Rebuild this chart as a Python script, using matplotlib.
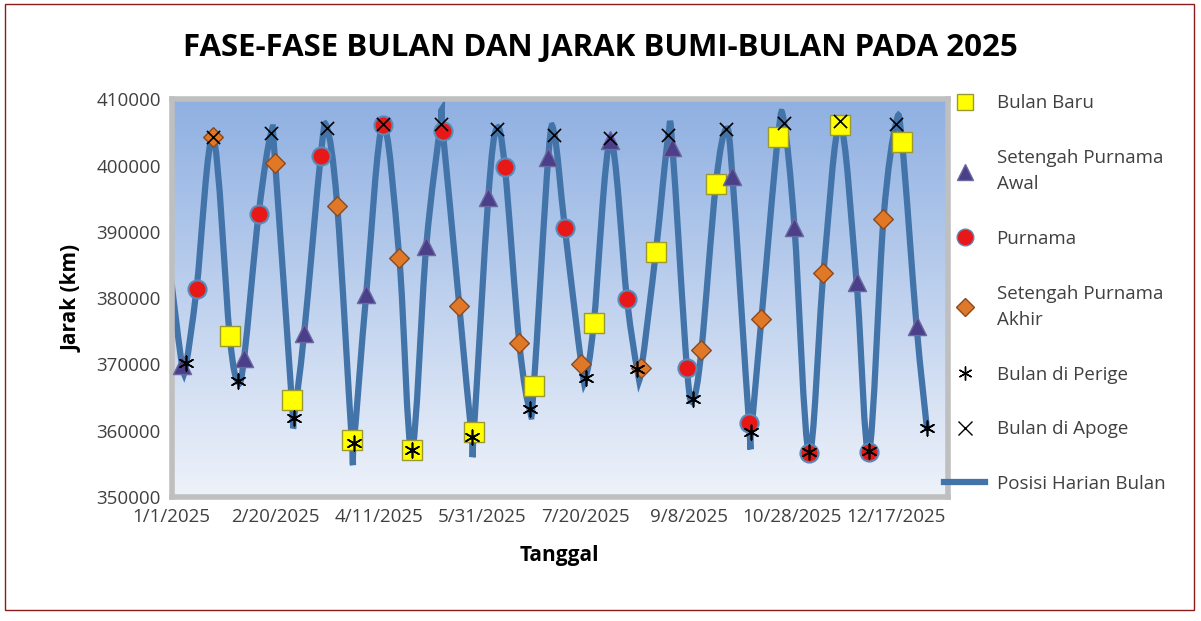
import numpy as np
import pandas as pd
import matplotlib
matplotlib.use('Agg')
import matplotlib.pyplot as plt
import matplotlib.dates as mdates
from matplotlib.lines import Line2D
from matplotlib.path import Path
from matplotlib.patches import PathPatch

plt.rcParams['font.family'] = ['Open Sans', 'DejaVu Sans']

# data (dates 2025, distances in km)
new_dates = ['2025-01-29', '2025-02-28', '2025-03-29', '2025-04-27', '2025-05-27', '2025-06-25',
             '2025-07-24', '2025-08-23', '2025-09-21', '2025-10-21', '2025-11-20', '2025-12-20']
new_km = [374300, 364600, 358600, 357000, 359800, 366700, 376200, 387000, 397200, 404300, 406200, 403500]

fq_dates = ['2025-01-06', '2025-02-05', '2025-03-06', '2025-04-05', '2025-05-04', '2025-06-03', '2025-07-02',
            '2025-08-01', '2025-08-31', '2025-09-29', '2025-10-29', '2025-11-28', '2025-12-27']
fq_km = [369900, 371000, 374700, 380600, 387800, 395200, 401300, 403800, 402800, 398400, 390700, 382400, 375800]

full_dates = ['2025-01-13', '2025-02-12', '2025-03-14', '2025-04-13', '2025-05-12', '2025-06-11',
              '2025-07-10', '2025-08-09', '2025-09-07', '2025-10-07', '2025-11-05', '2025-12-04']
full_km = [381400, 392700, 401400, 406100, 405200, 399800, 390600, 379900, 369500, 361200, 356600, 356800]

lq_dates = ['2025-01-21', '2025-02-20', '2025-03-22', '2025-04-21', '2025-05-20', '2025-06-18',
            '2025-07-18', '2025-08-16', '2025-09-14', '2025-10-13', '2025-11-12', '2025-12-11']
lq_km = [404300, 400400, 393900, 386000, 378800, 373200, 370000, 369400, 372100, 376800, 383800, 391900]

peri_dates = ['2025-01-08', '2025-02-02', '2025-03-01', '2025-03-30', '2025-04-27', '2025-05-26', '2025-06-23',
              '2025-07-20', '2025-08-14', '2025-09-10', '2025-10-08', '2025-11-05', '2025-12-04', '2026-01-01']
peri_km = [370170, 367460, 361970, 358130, 357120, 359020, 363180,
           368000, 369290, 364780, 359820, 356830, 356960, 360350]

apo_dates = ['2025-01-21', '2025-02-18', '2025-03-17', '2025-04-13', '2025-05-11', '2025-06-07', '2025-07-05',
             '2025-08-01', '2025-08-29', '2025-09-26', '2025-10-24', '2025-11-20', '2025-12-17']
apo_km = [404300, 404880, 405750, 406300, 406240, 405550, 404630,
          404170, 404550, 405530, 406450, 406690, 406320]

start_date, start_km = '2025-01-01', 382000

# curve through all read points
curve = pd.concat([
    pd.Series([start_km], index=pd.to_datetime([start_date])),
    pd.Series(peri_km, index=pd.to_datetime(peri_dates)),
    pd.Series(apo_km, index=pd.to_datetime(apo_dates)),
    pd.Series(new_km, index=pd.to_datetime(new_dates)),
    pd.Series(fq_km, index=pd.to_datetime(fq_dates)),
    pd.Series(full_km, index=pd.to_datetime(full_dates)),
    pd.Series(lq_km, index=pd.to_datetime(lq_dates)),
])
curve = curve.groupby(level=0).min().sort_index()


def smooth_path(xs, ys):
    # Excel-like "smoothed line": Catmull-Rom segments drawn as Bezier curves
    p = np.column_stack([xs, ys])
    p = np.vstack([p[0], p, p[-1]])
    verts = [p[1]]
    codes = [Path.MOVETO]
    for i in range(1, len(p) - 2):
        c1 = p[i] + (p[i + 1] - p[i - 1]) / 6
        c2 = p[i + 1] - (p[i + 2] - p[i]) / 6
        verts += [c1, c2, p[i + 1]]
        codes += [Path.CURVE4] * 3
    return Path(verts, codes)


fig = plt.figure(figsize=(12.01, 6.21), dpi=100)
fig.add_artist(plt.Rectangle((0.004, 0.018), 0.99, 0.975, transform=fig.transFigure,
                             fill=False, ec='#8b1a1a', lw=1))
ax = fig.add_axes([0.143, 0.2, 0.646, 0.64])

grad = np.linspace(0, 1, 256).reshape(-1, 1)
cmap = matplotlib.colors.LinearSegmentedColormap.from_list('bg', ['#8fb0e2', '#eef2fa'])
ax.imshow(grad, cmap=cmap, aspect='auto', extent=(0, 1, 0, 1), transform=ax.transAxes, zorder=0)

xs = mdates.date2num(curve.index.to_pydatetime())
ax.add_patch(PathPatch(smooth_path(xs, curve.values), fill=False, ec='#4274aa', lw=4.5,
                       capstyle='round', zorder=2))

ms = 12
ax.scatter(pd.to_datetime(new_dates), new_km, marker='s', s=190, c='#ffff00', edgecolors='#9a9a30', zorder=3)
ax.scatter(pd.to_datetime(fq_dates), fq_km, marker='^', s=170, c='#4b3f8a', edgecolors='#6a6aa0', zorder=3)
ax.scatter(pd.to_datetime(full_dates), full_km, marker='o', s=170, c='#e81818', edgecolors='#5a8ab8', lw=1.5, zorder=3)
ax.scatter(pd.to_datetime(lq_dates), lq_km, marker='D', s=100, c='#e07828', edgecolors='#8a4a20', zorder=3)
ax.scatter(pd.to_datetime(peri_dates), peri_km, marker=(6, 2, 0), s=110, c='black', lw=1.2, zorder=4)
ax.scatter(pd.to_datetime(apo_dates), apo_km, marker='x', s=90, c='black', lw=1.2, zorder=4)

ax.set_xlim(pd.Timestamp('2025-01-01'), pd.Timestamp('2026-01-11'))
ax.set_ylim(350000, 410000)
ax.set_yticks(np.arange(350000, 410001, 10000))
ax.set_yticklabels([str(v) for v in range(350000, 410001, 10000)], fontsize=13.5, color='#404040')
xt = pd.date_range('2025-01-01', periods=8, freq='50D')
ax.set_xticks(xt)
ax.set_xticklabels([f'{d.month}/{d.day}/{d.year}' for d in xt], fontsize=13.5, color='#404040')
ax.tick_params(length=0, pad=8)
for s in ax.spines.values():
    s.set_color('#bfbfbf')
    s.set_linewidth(4)
ax.set_xlabel('Tanggal', fontsize=15, fontweight='bold', labelpad=14)
ax.set_ylabel('Jarak (km)', fontsize=15, fontweight='bold', labelpad=10)
fig.text(0.5, 0.922, 'FASE-FASE BULAN DAN JARAK BUMI-BULAN PADA 2025', ha='center', va='center',
         fontsize=22.5, fontweight='bold')

handles = [
    Line2D([], [], ls='', marker='s', ms=ms, mfc='#ffff00', mec='#9a9a30'),
    Line2D([], [], ls='', marker='^', ms=ms, mfc='#4b3f8a', mec='#6a6aa0'),
    Line2D([], [], ls='', marker='o', ms=ms, mfc='#e81818', mec='#5a8ab8'),
    Line2D([], [], ls='', marker='D', ms=9, mfc='#e07828', mec='#8a4a20'),
    Line2D([], [], ls='', marker=(6, 2, 0), ms=10, color='black'),
    Line2D([], [], ls='', marker='x', ms=10, color='black'),
    Line2D([], [], color='#4274aa', lw=4.5),
]
labels = ['Bulan Baru', 'Setengah Purnama\nAwal', 'Purnama', 'Setengah Purnama\nAkhir',
          'Bulan di Perige', 'Bulan di Apoge', 'Posisi Harian Bulan']
leg = fig.legend(handles, labels, loc='upper left', bbox_to_anchor=(0.772, 0.875), frameon=False,
                 fontsize=13.5, labelspacing=1.95, handlelength=2.2, handletextpad=0.6, labelcolor='#404040')
for t in leg.get_texts():
    t.set_linespacing(1.6)

fig.savefig('out.png', dpi=100)
